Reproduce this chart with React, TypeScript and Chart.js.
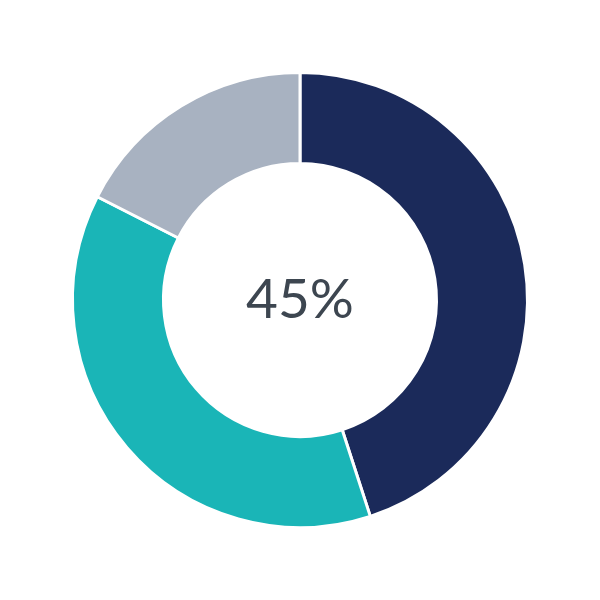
import { Chart, registerables } from "chart.js";
import { useEffect, useRef } from "react";

Chart.register(...registerables);

const labels = ["A", "B", "C"];
const values = [45, 37.5, 17.5];
const colors = ["#1b2a5a", "#1ab5b7", "#a8b2c1"];
const centerText = "45%";

const centerLabel = {
  id: "centerLabel",
  afterDraw(chart: Chart) {
    const { ctx, chartArea } = chart;
    const x = (chartArea.left + chartArea.right) / 2;
    const y = (chartArea.top + chartArea.bottom) / 2;
    ctx.save();
    ctx.font = "400 55px Lato";
    ctx.fillStyle = "#3d4650";
    ctx.textAlign = "center";
    ctx.textBaseline = "middle";
    ctx.fillText(centerText, x, y);
    ctx.restore();
  },
};

export default function App() {
  const rootRef = useRef<null | HTMLCanvasElement>(null);

  useEffect(() => {
    if (!rootRef.current) return;

    const c = new Chart(rootRef.current, {
      type: "doughnut",
      data: {
        labels,
        datasets: [
          {
            data: values,
            backgroundColor: colors,
            borderColor: "#ffffff",
            borderWidth: 3,
          },
        ],
      },
      options: {
        animation: false,
        responsive: true,
        maintainAspectRatio: false,
        cutout: "60%",
        layout: { padding: 71 },
        plugins: {
          legend: { display: false },
          tooltip: { enabled: false },
        },
      },
      plugins: [centerLabel],
    });

    return () => c.destroy();
  }, []);

  return (
    <div style={{ position: "fixed", left: 0, top: 0, width: 600, height: 600 }}>
      <canvas ref={rootRef}></canvas>
    </div>
  );
}
